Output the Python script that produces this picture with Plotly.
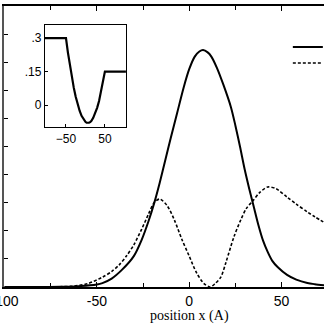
import plotly.graph_objects as go

# main curves (position x in A)
x_solid = [-100, -80, -70, -60, -50, -47, -42, -36.6, -30, -25.8, -22, -18.8, -16, -13, -10, -6.5, -3, 0, 3, 5.5, 7.5, 10, 12, 15, 18.5, 22.6, 25, 27.5, 30, 32.5, 35, 37.5, 40, 42.5, 45, 48, 53, 58, 64, 68, 74]
y_solid = [0.0, 0.0, 0.001, 0.003, 0.009, 0.014, 0.03, 0.06, 0.11, 0.167, 0.235, 0.302, 0.37, 0.45, 0.53, 0.62, 0.71, 0.775, 0.82, 0.838, 0.843, 0.835, 0.82, 0.78, 0.72, 0.64, 0.575, 0.5, 0.42, 0.35, 0.285, 0.22, 0.165, 0.125, 0.093, 0.07, 0.043, 0.026, 0.014, 0.01, 0.006]

x_dash = [-100, -80, -70, -63, -55, -47, -42, -38, -34, -30, -25.8, -22, -19, -16, -12, -8, -4, 0, 4, 8, 11.3, 14, 17.2, 20, 24.2, 28, 31, 34.4, 38, 42.5, 47, 53, 58, 64, 68, 74]
y_dash = [0.0, 0.0, 0.001, 0.003, 0.012, 0.035, 0.055, 0.078, 0.11, 0.15, 0.205, 0.26, 0.3, 0.313, 0.29, 0.238, 0.17, 0.11, 0.05, 0.012, 0.0, 0.012, 0.036, 0.09, 0.178, 0.24, 0.28, 0.306, 0.335, 0.356, 0.35, 0.32, 0.295, 0.267, 0.25, 0.226]

# inset: potential
x_pot = [-104, -50, -45, -40, -35, -30, -25, -20, -15, -10, -5, 0, 3, 6, 9, 12, 15, 20, 25, 30, 35, 40, 45, 50, 104]
y_pot = [0.3, 0.3, 0.235, 0.177, 0.125, 0.078, 0.037, 0.003, -0.025, -0.048, -0.065, -0.075, -0.079, -0.08, -0.079, -0.076, -0.071, -0.057, -0.037, -0.012, 0.018, 0.057, 0.1, 0.15, 0.15]

x_ticks = [-100, -50, 0, 50]
x_ticklabels = ["-100", "-50", "0", "50"]
inset_xticks = [-50, 50]
inset_yticks = [0, 0.15, 0.3]
inset_yticklabels = ["0", ".15", ".3"]

fig = go.Figure()
fig.add_trace(go.Scatter(x=x_solid, y=y_solid, mode="lines", line=dict(color="black", width=2, shape="spline", smoothing=0.8),
                         name=" ", showlegend=True, legend="legend"))
fig.add_trace(go.Scatter(x=x_dash, y=y_dash, mode="lines", line=dict(color="black", width=1.6, dash="3px,2px", shape="spline", smoothing=0.8),
                         name=" ", showlegend=True, legend="legend2"))
fig.add_trace(go.Scatter(x=x_pot, y=y_pot, mode="lines", line=dict(color="black", width=2.2),
                         xaxis="x2", yaxis="y2", showlegend=False))

leg_common = dict(x=0.887, xanchor="left", yanchor="middle", bgcolor="rgba(0,0,0,0)",
                  font=dict(size=8), itemwidth=30)

fig.update_layout(
    width=324, height=324,
    margin=dict(l=4, r=0, t=6, b=37, autoexpand=False),
    paper_bgcolor="white", plot_bgcolor="white",
    showlegend=True,
    legend=dict(y=(287 - 47) / 281, **leg_common),
    legend2=dict(y=(287 - 63) / 281, **leg_common),
    xaxis=dict(range=[-100.3, 73], tickvals=x_ticks, ticktext=x_ticklabels, ticklabeloverflow="allow",
               showline=True, linecolor="black", linewidth=1.5, mirror="ticks",
               ticks="inside", ticklen=5, tickcolor="black",
               minor=dict(dtick=25, ticks="inside", ticklen=4, tickcolor="black"),
               showgrid=False, zeroline=False, automargin=False,
               tickfont=dict(family="Liberation Sans, Arial", size=14, color="black")),
    yaxis=dict(range=[0, 1.0], dtick=0.1, showticklabels=False,
               showline=True, linecolor="#555", linewidth=2,
               ticks="inside", ticklen=4, tickcolor="black",
               showgrid=False, zeroline=False, automargin=False),
    xaxis2=dict(domain=[0.128, 0.381], anchor="y2", range=[-104, 104], tickvals=inset_xticks,
                showline=True, linecolor="black", linewidth=1.2, mirror=True,
                ticks="inside", ticklen=3, tickcolor="black", showgrid=False, zeroline=False,
                tickfont=dict(family="Liberation Sans, Arial", size=12, color="black")),
    yaxis2=dict(domain=[0.569, 0.932], anchor="x2", range=[-0.0985, 0.358], tickvals=inset_yticks,
                ticktext=inset_yticklabels,
                showline=True, linecolor="black", linewidth=1.2, mirror=True,
                ticks="inside", ticklen=3, tickcolor="black", showgrid=False, zeroline=False,
                tickfont=dict(family="Liberation Sans, Arial", size=12, color="black")),
    annotations=[dict(text="position x (A)", xref="x", x=0, yref="paper", y=0, yshift=-19,
                      yanchor="top", showarrow=False,
                      font=dict(family="Liberation Serif, Times New Roman", size=14, color="black"))],
)

fig.write_html("out.html")
